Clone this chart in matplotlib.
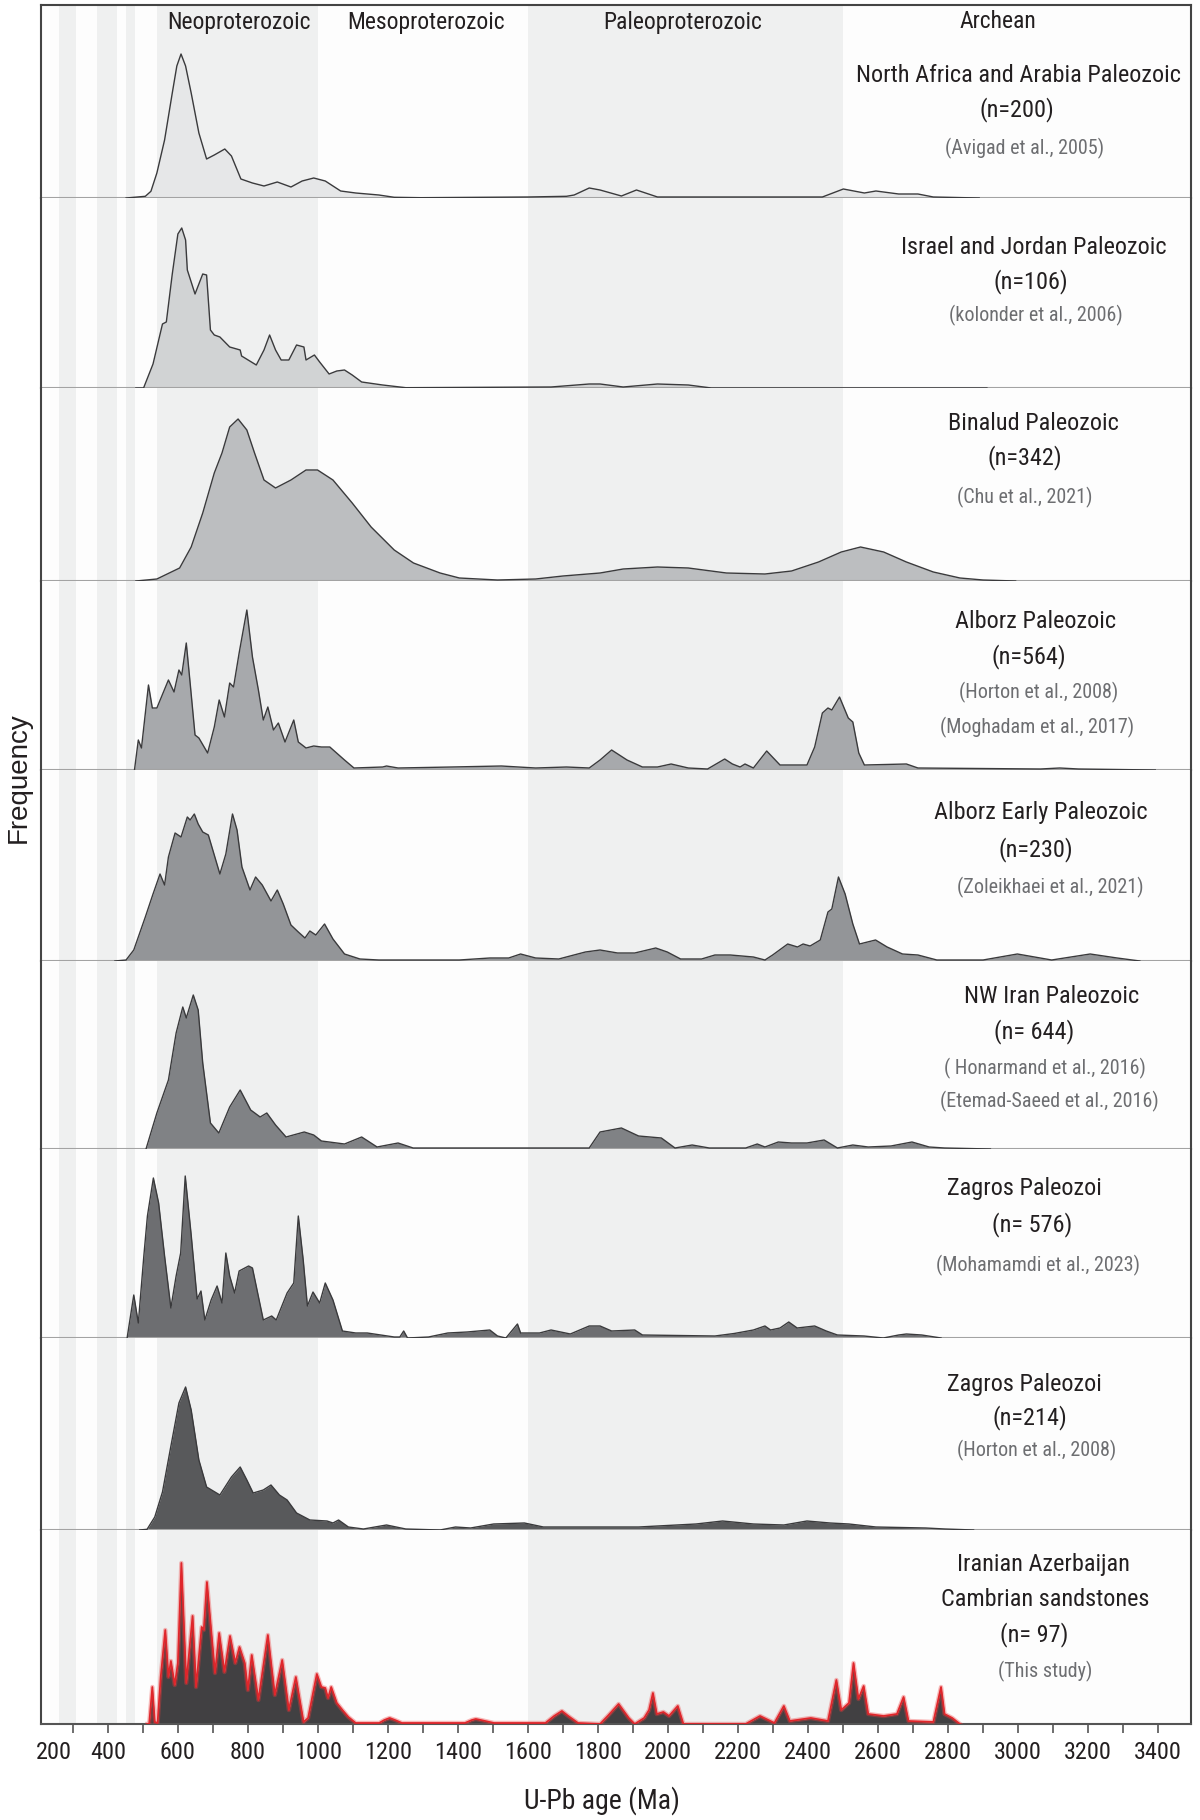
import matplotlib
matplotlib.use('Agg')
import matplotlib.pyplot as plt
from matplotlib import font_manager

# ---- data (age in Ma, curve height in px above baseline) ----
NAF_AGE = [452, 507, 523, 540, 562, 584, 597, 609, 622, 638, 660, 682, 704, 734, 753, 780, 813, 846,
           884, 923, 955, 988, 1021, 1065, 1108, 1174, 1218, 1294, 1600, 1710, 1732, 1775, 1806, 1867,
           1910, 1970, 2441, 2501, 2561, 2594, 2659, 2714, 2758, 2889]
NAF_H = [0, 1.7, 6.7, 25, 58, 105, 132, 144, 132, 105, 65, 39, 43, 49, 42, 19, 15, 12,
         16, 11, 17, 20, 17, 7, 5, 3, 0.7, 0.3, 1, 1.7, 3, 10, 8, 2,
         8, 1, 1, 9, 5, 7, 4, 4, 1, 0]

ISR_AGE = [480, 502, 529, 556, 567, 584, 600, 611, 622, 627, 649, 671, 682, 693, 704, 720, 748, 778,
           782, 824, 846, 862, 879, 895, 917, 939, 960, 966, 990, 1005, 1032, 1054, 1076, 1098, 1125,
           1185, 1251, 1666, 1775, 1806, 1872, 1970, 2058, 2124, 2911]
ISR_H = [0, 0, 24, 64, 66, 114, 154, 160, 148, 118, 94, 114, 113, 58, 53, 51, 41, 38,
         32, 23, 38, 53, 38, 28, 28, 43, 41, 28, 33, 26, 14, 17, 18, 13, 6,
         3, 0.3, 1, 4, 4, 1, 4, 3, 0, 0]

BIN_AGE = [480, 540, 605, 638, 671, 704, 726, 748, 772, 797, 819, 846, 879, 923, 966, 999, 1043, 1098,
           1152, 1218, 1273, 1349, 1404, 1513, 1622, 1700, 1806, 1872, 1970, 2058, 2167, 2277, 2353,
           2430, 2495, 2550, 2616, 2681, 2758, 2834, 2900, 2993]
BIN_H = [0, 2, 13, 34, 68, 108, 128, 154, 162, 151, 128, 101, 93, 101, 111, 111, 101, 78,
         54, 31, 18, 8, 3, 1, 2, 5, 8, 12, 14, 13, 8, 7, 10,
         19, 29, 34, 29, 19, 9, 3, 1, 0]

ALB_AGE = [476, 487, 496, 516, 527, 540, 573, 589, 603, 611, 624, 635, 649, 660, 685, 704, 718, 733,
           748, 759, 775, 797, 813, 830, 844, 857, 873, 887, 906, 931, 944, 966, 988, 1010, 1034, 1076,
           1103, 1185, 1196, 1229, 1382, 1524, 1622, 1710, 1775, 1806, 1839, 1883, 1927, 1970, 2009,
           2058, 2113, 2162, 2184, 2206, 2220, 2244, 2282, 2320, 2397, 2419, 2441, 2457, 2468, 2490,
           2515, 2528, 2545, 2561, 2681, 2714, 3064, 3119, 3173, 3392]
ALB_H = [0, 30, 22, 85, 62, 62, 90, 78, 100, 95, 127, 87, 35, 32, 17, 43, 70, 53,
         87, 83, 117, 160, 113, 80, 50, 63, 40, 47, 28, 50, 28, 22, 24, 23, 23, 10,
         2, 3, 4, 2, 3, 4, 2, 3, 2, 10, 20, 10, 3, 3, 6,
         2, 1, 11, 6, 3, 6, 2, 19, 5, 5, 23, 57, 62, 60, 73,
         52, 48, 17, 5, 6, 2, 1, 2, 1, 0]

ALE_AGE = [420, 452, 474, 507, 529, 549, 562, 573, 592, 609, 627, 635, 647, 658, 671, 687, 720, 737,
           756, 769, 783, 806, 822, 841, 866, 884, 901, 923, 944, 963, 977, 994, 1019, 1043, 1076,
           1120, 1174, 1404, 1491, 1545, 1579, 1622, 1688, 1764, 1806, 1856, 1905, 1965, 1998, 2036,
           2096, 2134, 2178, 2244, 2277, 2299, 2342, 2370, 2386, 2406, 2435, 2457, 2468, 2487, 2506,
           2528, 2547, 2593, 2626, 2670, 2714, 2768, 2900, 2998, 3096, 3206, 3283, 3348]
ALE_H = [0, 1, 11, 44, 67, 87, 76, 104, 128, 124, 144, 141, 147, 137, 129, 126, 87, 107,
         147, 131, 94, 71, 84, 76, 60, 71, 57, 36, 29, 23, 30, 26, 37, 22, 7,
         2, 1, 1, 3, 3, 7, 3, 2, 9, 11, 8, 8, 13, 9, 2,
         2, 6, 6, 4, 1, 6, 17, 14, 17, 15, 21, 49, 52, 84, 67,
         37, 17, 21, 14, 7, 6, 1, 1, 7, 1, 7, 3, 0]

NWI_AGE = [509, 540, 573, 595, 614, 624, 644, 658, 671, 693, 717, 748, 778, 808, 835, 854, 879, 909,
           961, 988, 1010, 1076, 1125, 1169, 1229, 1272, 1775, 1806, 1867, 1916, 1981, 2020, 2069,
           2118, 2222, 2255, 2277, 2315, 2353, 2397, 2446, 2484, 2528, 2572, 2637, 2697, 2746, 2790, 2921]
NWI_H = [0, 36, 69, 116, 142, 131, 154, 139, 86, 26, 16, 42, 59, 39, 32, 36, 24, 12,
         17, 14, 8, 5, 12, 2, 6, 1, 1, 17, 21, 13, 11, 1, 4,
         1, 1, 5, 2, 7, 6, 6, 9, 1, 4, 2, 3, 7, 2, 1, 0]

ZG1_AGE = [455, 474, 487, 503, 513, 530, 545, 562, 580, 595, 608, 621, 638, 655, 666, 677, 695, 712,
           726, 737, 748, 762, 775, 802, 813, 844, 868, 881, 912, 931, 944, 958, 970, 986, 1005, 1021,
           1043, 1070, 1108, 1141, 1218, 1234, 1245, 1256, 1316, 1371, 1426, 1491, 1513, 1537, 1570,
           1579, 1633, 1666, 1721, 1775, 1806, 1839, 1905, 1927, 2134, 2189, 2244, 2277, 2293, 2320,
           2345, 2369, 2419, 2452, 2484, 2560, 2615, 2659, 2681, 2725, 2780]
ZG1_H = [0, 43, 15, 83, 122, 160, 135, 82, 30, 62, 85, 162, 103, 39, 47, 18, 38, 52,
         35, 85, 62, 45, 67, 72, 70, 18, 22, 18, 45, 55, 122, 78, 32, 46, 35, 55,
         38, 7, 5, 5, 1, 1, 7, 0, 1, 5, 6, 8, 2, 0, 14,
         5, 5, 8, 4, 12, 12, 7, 8, 3, 2, 4.5, 8, 12, 8, 10,
         16, 10, 12, 7, 3, 2, 0, 3, 4, 3, 0]

ZG2_AGE = [491, 512, 534, 556, 578, 603, 622, 638, 660, 682, 720, 753, 778, 797, 815, 844, 866, 890,
           912, 939, 977, 1026, 1043, 1059, 1087, 1130, 1196, 1251, 1349, 1393, 1436, 1502, 1590, 1644,
           1806, 1916, 2080, 2156, 2244, 2331, 2397, 2463, 2517, 2594, 2736, 2791, 2873]
ZG2_H = [0, 0.7, 13, 38, 80, 127, 143, 120, 70, 43, 35, 53, 63, 50, 37, 40, 45, 35,
         30, 17, 10, 9, 7, 10, 3, 1, 5, 1, 0, 3, 2, 6, 7, 3,
         3, 3, 6, 9, 6, 5, 9, 7, 6, 3, 2, 1, 0]

AZB_AGE = [513, 518, 527, 534, 542, 551, 564, 573, 580, 591, 600, 610, 624, 642, 652, 668, 674, 683,
           695, 706, 718, 733, 749, 764, 776, 791, 800, 811, 830, 857, 877, 898, 917, 937, 959, 972,
           997, 1010, 1021, 1029, 1038, 1054, 1070, 1087, 1108, 1175, 1190, 1205, 1220, 1240, 1420,
           1440, 1451, 1465, 1503, 1650, 1675, 1697, 1715, 1743, 1806, 1828, 1859, 1888, 1905, 1932,
           1946, 1957, 1968, 1987, 2003, 2028, 2044, 2222, 2263, 2304, 2331, 2348, 2408, 2457, 2481,
           2495, 2517, 2530, 2544, 2559, 2572, 2616, 2654, 2673, 2687, 2758, 2780, 2790, 2812, 2834]
AZB_H = [0, 0, 37, 2, 1, 47, 94, 47, 63, 39, 61, 161, 41, 108, 37, 97, 94, 142,
         94, 51, 91, 52, 88, 61, 77, 61, 34, 69, 24, 89, 29, 64, 14, 47, 2, 6,
         50, 37, 36, 26, 37, 21, 14, 7, 1, 1, 4, 6, 4, 1, 1,
         4, 5, 4, 1, 1, 8, 13, 8, 1, 0, 8, 20, 6, 0, 6,
         14, 31, 10, 12, 8, 18, 0, 0, 8, 1, 18, 3, 6, 3, 44,
         14, 21, 61, 25, 38, 10, 8, 10, 27, 3, 2, 37, 10, 6, 0]

PANEL_LABELS = [
    ["North Africa and Arabia Paleozoic", "(n=200)", "(Avigad et al., 2005)"],
    ["Israel and Jordan Paleozoic", "(n=106)", "(kolonder et al., 2006)"],
    ["Binalud Paleozoic", "(n=342)", "(Chu et al., 2021)"],
    ["Alborz Paleozoic", "(n=564)", "(Horton et al., 2008)", "(Moghadam et al., 2017)"],
    ["Alborz Early Paleozoic", "(n=230)", "(Zoleikhaei et al., 2021)"],
    ["NW Iran Paleozoic", "(n= 644)", "( Honarmand et al., 2016)", "(Etemad-Saeed et al., 2016)"],
    ["Zagros Paleozoi", "(n= 576)", "(Mohamamdi et al., 2023)"],
    ["Zagros Paleozoi", "(n=214)", "(Horton et al., 2008)"],
    ["Iranian Azerbaijan", "Cambrian sandstones", "(n= 97)", "(This study)"],
]
ERAS = ["Neoproterozoic", "Mesoproterozoic", "Paleoproterozoic", "Archean"]
ERA_BANDS = [(259, 308), (368, 425), (452, 478), (541, 1000), (1600, 2500)]

# ---- layout (pixels of the 1200x1820 output) ----
W, H = 1200, 1820
X0, X1 = 41, 1191
TOPS = [5, 198, 388, 581, 770, 961, 1149, 1338, 1530]
BASES = [198, 388, 581, 770, 961, 1149, 1338, 1530, 1724]
FILLS = ['#e6e7e8', '#d1d3d4', '#bcbec0', '#a7a9ac', '#939598',
         '#808285', '#6d6e71', '#58595b', '#414042']

# label line positions (x centre, y centre) in px
LABEL_POS = [
    [(1018, 75), (1017, 110), (1025, 148)],
    [(1034, 248), (1031, 282), (1036, 315)],
    [(1033, 423), (1025, 458), (1025, 497)],
    [(1036, 622), (1029, 657), (1039, 692), (1037, 727)],
    [(1041, 813), (1036, 850), (1050, 887)],
    [(1052, 996), (1034, 1032), (1045, 1068), (1049, 1101)],
    [(1024, 1189), (1032, 1225), (1038, 1265)],
    [(1024, 1384), (1030, 1418), (1037, 1450)],
    [(1043, 1565), (1045, 1599), (1034, 1635), (1045, 1671)],
]
ERA_POS = [(239, 22), (426, 22), (683, 22), (998, 22)]

names = {f.name for f in font_manager.fontManager.ttflist}
NARROW = None
for cand in ['Liberation Sans Narrow', 'Roboto Condensed', 'Open Sans Condensed']:
    if cand in names:
        NARROW = cand
        break
if NARROW is None:
    NARROW, SC = 'Liberation Sans', 0.82
else:
    SC = 1.0

TXT = '#231f20'
GREY_TXT = '#6d6e71'

fig = plt.figure(figsize=(W / 100, H / 100), dpi=100)
fig.patch.set_facecolor('white')


def fx(px):
    return px / W


def fy(py):
    return 1 - py / H


series = [(NAF_AGE, NAF_H), (ISR_AGE, ISR_H), (BIN_AGE, BIN_H), (ALB_AGE, ALB_H),
          (ALE_AGE, ALE_H), (NWI_AGE, NWI_H), (ZG1_AGE, ZG1_H), (ZG2_AGE, ZG2_H),
          (AZB_AGE, AZB_H)]

axes = []
for i, (ages, hts) in enumerate(series):
    top, base = TOPS[i], BASES[i]
    ax = fig.add_axes([fx(X0), fy(base), (X1 - X0) / W, (base - top) / H])
    ax.set_xlim(209, 3494)
    ax.set_ylim(0, base - top)
    ax.set_facecolor('#fdfdfd')
    for a, b in ERA_BANDS:
        ax.axvspan(a, b, color='#eff0f0', lw=0, zorder=0)
    last = i == len(series) - 1
    ax.fill_between(ages, hts, 0, color=FILLS[i], lw=0, zorder=2)
    if last:
        ax.plot(ages, hts, color='#ee3a3a', lw=3.2, alpha=0.35, zorder=3, solid_joinstyle='round')
        ax.plot(ages, hts, color='#e0262b', lw=1.3, zorder=4, solid_joinstyle='round')
    else:
        ax.plot(ages, hts, color='#3a3a3c', lw=1.0, zorder=3)
    for s in ['left', 'right']:
        ax.spines[s].set_color('#444444')
        ax.spines[s].set_linewidth(1.5)
    ax.spines['top'].set_visible(i == 0)
    ax.spines['top'].set_color('#444444')
    ax.spines['top'].set_linewidth(1.5)
    ax.spines['bottom'].set_color('#555555' if last else '#a3a3a3')
    ax.spines['bottom'].set_linewidth(1.5)
    ax.set_yticks([])
    if not last:
        ax.set_xticks([])
    axes.append(ax)

    for (tx, ty), line in zip(LABEL_POS[i], PANEL_LABELS[i]):
        cite = line.startswith('(') and 'n=' not in line
        fig.text(fx(tx), fy(ty), line, ha='center', va='center',
                 fontsize=(14.5 if cite else 17.5) * SC, family=NARROW,
                 color=GREY_TXT if cite else TXT)

ax = axes[-1]
ax.set_xticks(range(400, 3401, 200))
ax.set_xticklabels([str(v) for v in range(400, 3401, 200)])
ax.set_xticks(range(300, 3500, 200), minor=True)
ax.tick_params(axis='x', which='both', direction='out', length=6.5, width=1.2,
               color='#555555', pad=6, labelsize=17.5 * SC, labelcolor=TXT)
for lab in ax.get_xticklabels():
    lab.set_family(NARROW)
ax.annotate('200', xy=(246, 0), xycoords=('data', 'axes fraction'),
            xytext=(0, -12.5), textcoords='offset points', ha='center', va='top',
            fontsize=17.5 * SC, family=NARROW, color=TXT)

for (tx, ty), name in zip(ERA_POS, ERAS):
    fig.text(fx(tx), fy(ty), name, ha='center', va='center',
             fontsize=17 * SC, family=NARROW, color=TXT)

fig.text(fx(19), fy(778), 'Frequency', rotation=90, ha='center', va='center',
         fontsize=20, family='Liberation Sans', color=TXT)
fig.text(fx(602), fy(1801), 'U-Pb age (Ma)', ha='center', va='center',
         fontsize=20 * SC, family=NARROW, color=TXT)

fig.savefig('out.png', dpi=100, facecolor='white')
